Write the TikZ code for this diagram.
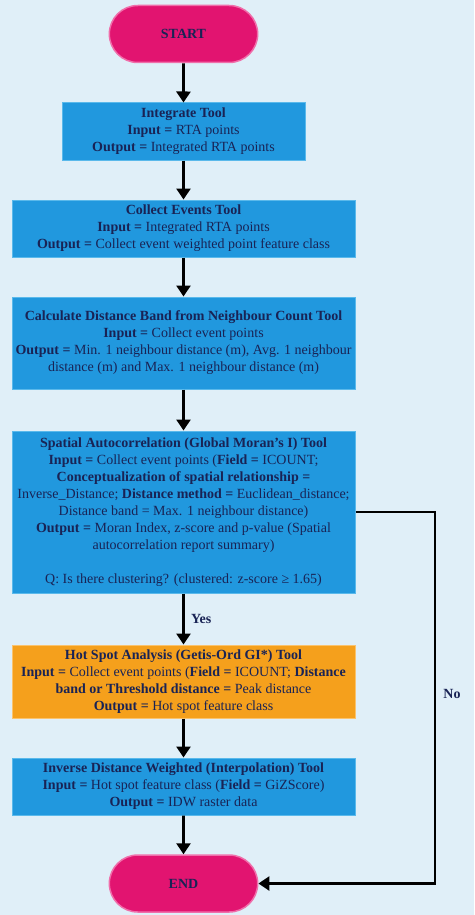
\documentclass[tikz,border=0pt]{standalone}
\usepackage{fontspec}
\setmainfont{Liberation Serif}
\usetikzlibrary{arrows.meta,shapes.misc}
\definecolor{bg}{RGB}{224,239,248}
\definecolor{boxblue}{RGB}{33,152,222}
\definecolor{boxedge}{RGB}{90,185,235}
\definecolor{orangebox}{RGB}{245,160,28}
\definecolor{orangeedge}{RGB}{250,195,110}
\definecolor{pinkfill}{RGB}{226,20,112}
\definecolor{pinkedge}{RGB}{240,110,170}
\definecolor{txt}{RGB}{25,35,85}
\begin{document}
\begin{tikzpicture}[x=1pt,y=1pt,
  box/.style={rectangle, fill=boxblue, draw=boxedge, line width=1pt, inner sep=1pt,
    align=center, text=txt, font=\fontsize{14}{17}\selectfont},
  obox/.style={box, fill=orangebox, draw=orangeedge},
  term/.style={rounded rectangle, fill=pinkfill, draw=pinkedge, line width=1.5pt,
    minimum width=155pt, minimum height=57pt, text=txt,
    font=\bfseries\fontsize{14}{17}\selectfont},
  arr/.style={line width=2.6pt, -{Triangle[width=14pt,length=11pt]}},
  lbl/.style={text=txt, font=\bfseries\fontsize{14}{17}\selectfont}]
\fill[bg] (0,0) rectangle (474,-915);
\useasboundingbox (0,0) rectangle (474,-915);

\node[term] (start) at (183.5,-34) {START};

\node[box, minimum width=243pt, minimum height=57pt] (integrate) at (183.5,-131.5)
  {\textbf{Integrate Tool}\\
   \textbf{Input =} RTA points\\
   \textbf{Output =} Integrated RTA points};

\node[box, minimum width=343pt, minimum height=57pt] (collect) at (183.5,-228.5)
  {\textbf{Collect Events Tool}\\
   \textbf{Input =} Integrated RTA points\\
   \textbf{Output =} Collect event weighted point feature class};

\node[box, minimum width=343pt, minimum height=92pt] (calc) at (183.5,-343)
  {\textbf{Calculate Distance Band from Neighbour Count Tool}\\
   \textbf{Input =} Collect event points\\
   \textbf{Output =} Min. 1 neighbour distance (m), Avg. 1 neighbour\\
   distance (m) and Max. 1 neighbour distance (m)};

\node[box, minimum width=343pt, minimum height=162pt] (spatial) at (183.5,-512)
  {\textbf{Spatial Autocorrelation (Global Moran’s I) Tool}\\
   \textbf{Input =} Collect event points (\textbf{Field =} ICOUNT;\\
   \textbf{Conceptualization of spatial relationship =}\\
   Inverse\_Distance; \textbf{Distance method =} Euclidean\_distance;\\
   Distance band = Max. 1 neighbour distance)\\
   \textbf{Output =} Moran Index, z-score and p-value (Spatial\\
   autocorrelation report summary)\\[17pt]
   Q: Is there clustering? (clustered: z-score ≥ 1.65)};

\node[obox, minimum width=343pt, minimum height=73pt] (hotspot) at (183.5,-681.5)
  {\textbf{Hot Spot Analysis (Getis-Ord GI*) Tool}\\
   \textbf{Input =} Collect event points (\textbf{Field =} ICOUNT; \textbf{Distance}\\
   \textbf{band or Threshold distance =} Peak distance\\
   \textbf{Output =} Hot spot feature class};

\node[box, minimum width=343pt, minimum height=57pt] (idw) at (183.5,-786.5)
  {\textbf{Inverse Distance Weighted (Interpolation) Tool}\\
   \textbf{Input =} Hot spot feature class (\textbf{Field =} GiZScore)\\
   \textbf{Output =} IDW raster data};

\node[term] (end) at (183.5,-883.5) {END};

\coordinate (nocorner) at (435,-512);
\node[lbl] (nolabel) at (452,-694) {No};

\draw[arr] (start) -- (integrate);
\draw[arr] (integrate) -- (collect);
\draw[arr] (collect) -- (calc);
\draw[arr] (calc) -- (spatial);
\draw[arr] (spatial) -- node[lbl, right=3pt] (yeslabel) {Yes} (hotspot);
\draw[arr] (hotspot) -- (idw);
\draw[arr] (idw) -- (end);
\draw[arr] (spatial.east) -- (nocorner) |- (end.east);
\end{tikzpicture}
\end{document}
